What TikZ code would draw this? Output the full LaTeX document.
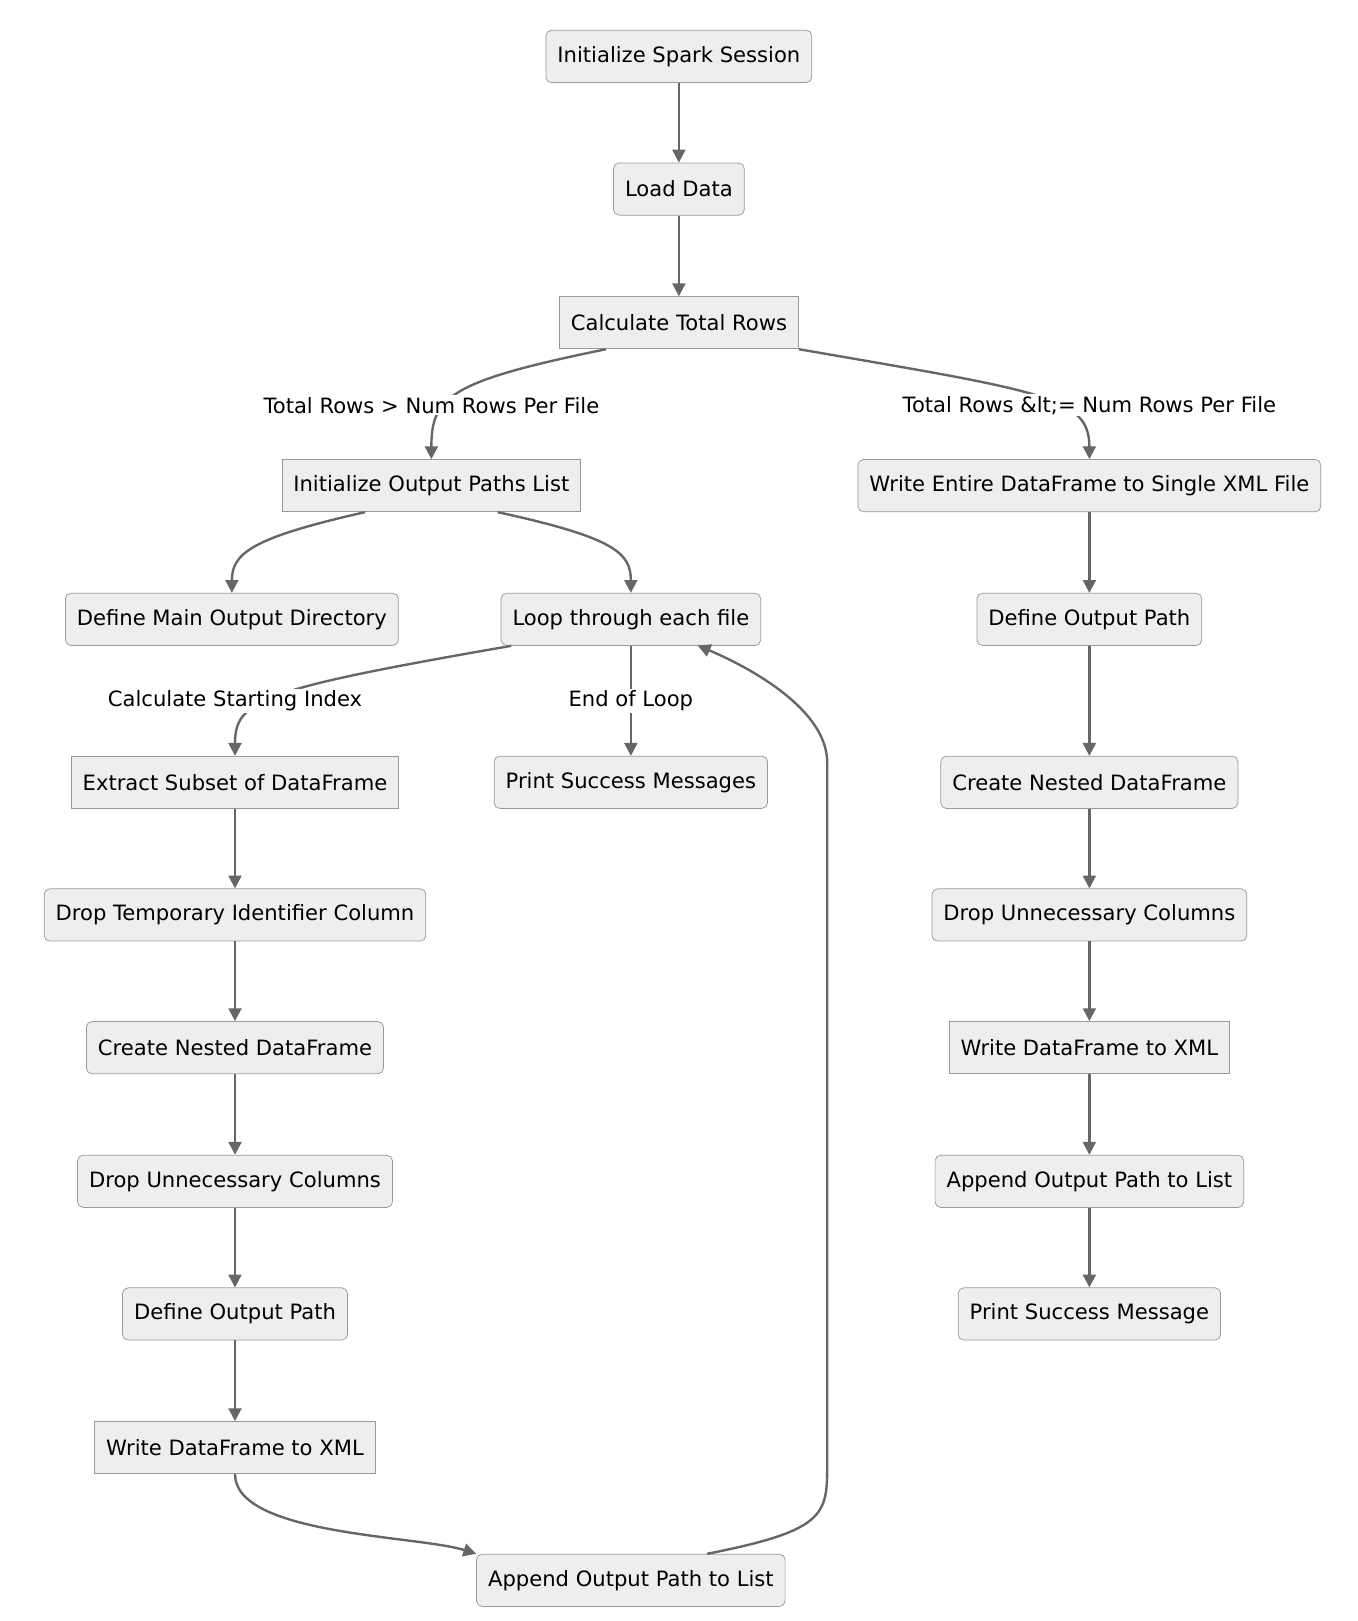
\documentclass[tikz,border=0pt]{standalone}
\usepackage{fontspec}
\setmainfont{DejaVu Sans}
\usetikzlibrary{arrows.meta}
\definecolor{boxfill}{HTML}{EEEEEE}
\definecolor{boxline}{HTML}{999999}
\definecolor{edge}{HTML}{666666}
\begin{document}
\begin{tikzpicture}[x=0.02cm, y=-0.02cm,
    box/.style={draw=boxline, fill=boxfill, minimum height=1.0cm, inner xsep=0.22cm, font=\fontsize{11.5}{13}\selectfont},
    rbox/.style={box, rounded corners=3pt},
    link/.style={draw=edge, line width=1.3pt, -{Triangle[length=7pt,width=7pt]}},
    lbl/.style={fill=white, inner sep=1pt, font=\fontsize{11.5}{13}\selectfont}]
    \useasboundingbox (0,0) rectangle (1300,1552);

    \node[rbox](init) at (650,54){Initialize Spark Session};
    \node[rbox](load) at (650,181){Load Data};
    \node[box](calc) at (650,309){Calculate Total Rows};
    \node[box](initOut) at (413,465){Initialize Output Paths List};
    \node[rbox](whole) at (1043,465){Write Entire DataFrame to Single XML File};

    \node[rbox](mainDir) at (222,593){Define Main Output Directory};
    \node[rbox](loop) at (604,593){Loop through each file};
    \node[rbox](rPath) at (1043,593){Define Output Path};

    \node[box](extract) at (225,749){Extract Subset of DataFrame};
    \node[rbox](done) at (604,749){Print Success Messages};
    \node[rbox](rNest) at (1043,749){Create Nested DataFrame};

    \node[rbox](lTemp) at (225,876){Drop Temporary Identifier Column};
    \node[rbox](rDrop) at (1043,876){Drop Unnecessary Columns};
    \node[rbox](lNest) at (225,1003){Create Nested DataFrame};
    \node[box](rXml) at (1043,1003){Write DataFrame to XML};
    \node[rbox](lDrop) at (225,1131){Drop Unnecessary Columns};
    \node[rbox](rAppend) at (1043,1131){Append Output Path to List};
    \node[rbox](lPath) at (225,1258){Define Output Path};
    \node[rbox](rDone) at (1043,1258){Print Success Message};
    \node[box](lXml) at (225,1386){Write DataFrame to XML};
    \node[rbox](lAppend) at (604,1513){Append Output Path to List};

    \draw[link] (init) -- (load);
    \draw[link] (load) -- (calc);
    \draw[link] (calc.south west) ++(45,0) .. controls (430,365) and (413,380) .. (initOut.north);
    \node[lbl] at (413,388){Total Rows > Num Rows Per File};
    \draw[link] (calc.south east) .. controls (1000,375) and (1043,380) .. (whole.north);
    \node[lbl] at (1043,388){Total Rows \&lt;= Num Rows Per File};

    \draw[link] (initOut.south west) ++(80,0) .. controls (240,515) and (222,530) .. (mainDir.north);
    \draw[link] (initOut.south east) ++(-80,0) .. controls (590,515) and (604,530) .. (loop.north);

    \draw[link] (loop.south west) ++(10,0) .. controls (250,660) and (225,670) .. (extract.north);
    \node[lbl] at (225,671){Calculate Starting Index};
    \draw[link] (loop) -- node[lbl]{End of Loop} (done);

    \draw[link] (extract) -- (lTemp);
    \draw[link] (lTemp) -- (lNest);
    \draw[link] (lNest) -- (lDrop);
    \draw[link] (lDrop) -- (lPath);
    \draw[link] (lPath) -- (lXml);
    \draw[link] (lXml.south) .. controls (225,1470) and (400,1470) .. (lAppend.north west);
    \draw[link] (lAppend.north east) ++(-75,0) .. controls (792,1465) and (792,1450) .. (792,1400)
        -- (792,730) .. controls (792,680) and (720,640) .. (668,618);

    \draw[link] (whole) -- (rPath);
    \draw[link] (rPath) -- (rNest);
    \draw[link] (rNest) -- (rDrop);
    \draw[link] (rDrop) -- (rXml);
    \draw[link] (rXml) -- (rAppend);
    \draw[link] (rAppend) -- (rDone);
\end{tikzpicture}
\end{document}
